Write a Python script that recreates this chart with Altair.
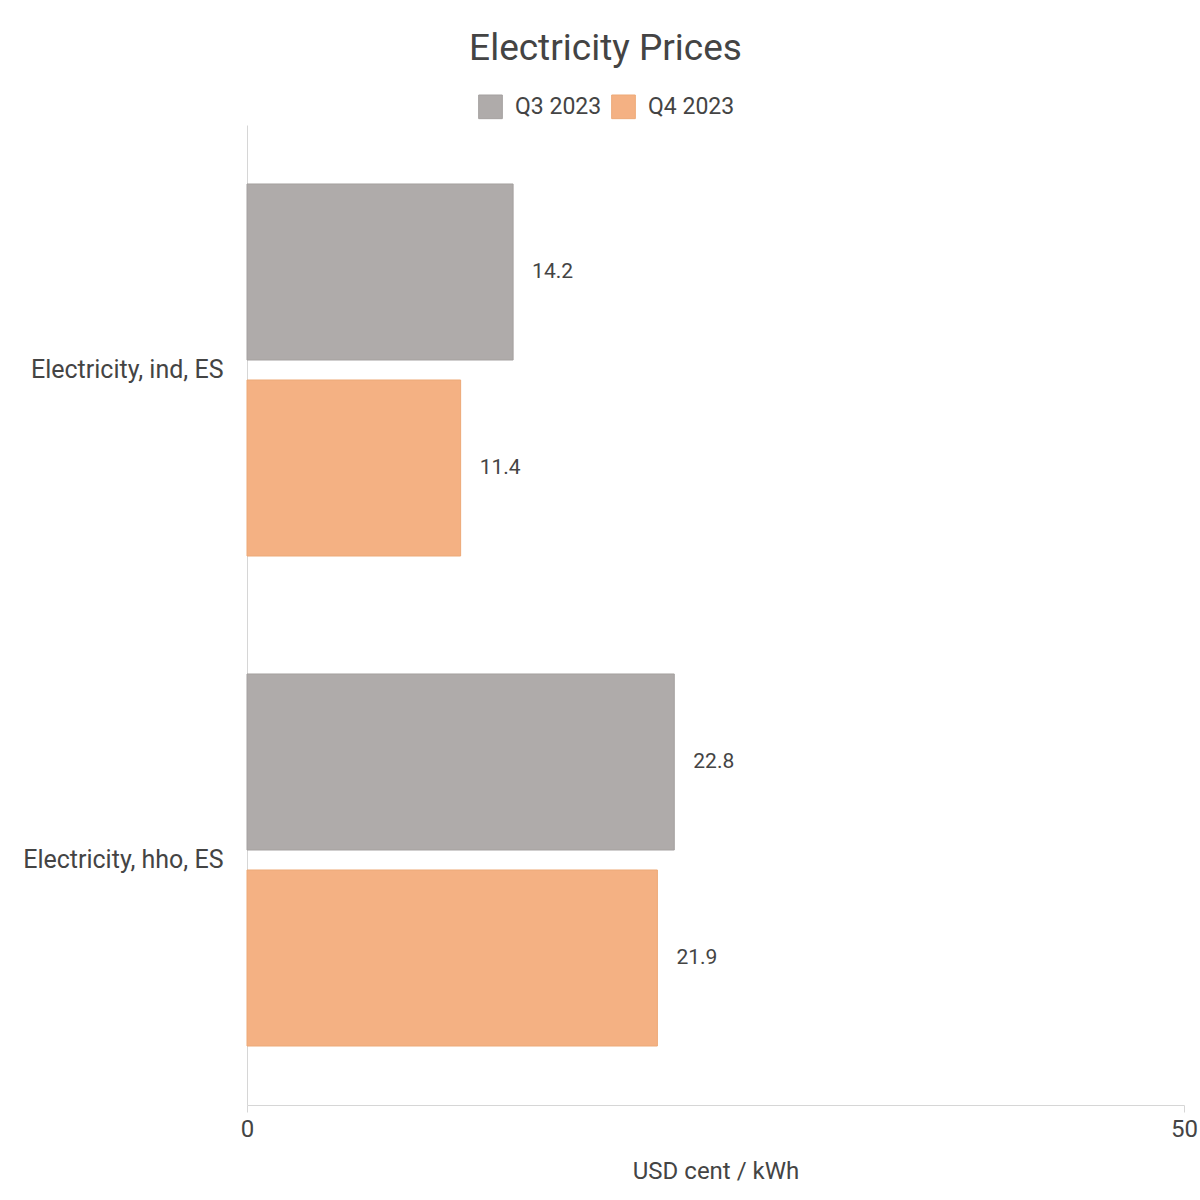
import altair as alt
import pandas as pd

# Electricity prices by quarter, USD cent per kWh
categories = ["Electricity, ind, ES", "Electricity, hho, ES"]
series = ["Q3 2023", "Q4 2023"]
q3_values = [14.2, 22.8]
q4_values = [11.4, 21.9]
colors = ["#AFABAA", "#F4B183"]
strokes = ["#A4A09F", "#EDA977"]

rows = []
for cat, v3, v4 in zip(categories, q3_values, q4_values):
    rows.append({"category": cat, "series": series[0], "value": v3})
    rows.append({"category": cat, "series": series[1], "value": v4})
df = pd.DataFrame(rows)

FONT = "Roboto"
TEXT = "#444444"
LINE = "#D6D6D6"

x = alt.X(
    "value:Q",
    scale=alt.Scale(domain=[0, 50], nice=False),
    axis=alt.Axis(
        values=[0, 50],
        title="USD cent / kWh",
        titleFontSize=24,
        titleFont=FONT,
        titleColor=TEXT,
        titleFontWeight="normal",
        titlePadding=18,
        labelFontSize=24,
        labelFont=FONT,
        labelColor=TEXT,
        labelPadding=5,
        labelFlush=False,
        grid=False,
        domainColor=LINE,
        tickColor=LINE,
        tickSize=7,
    ),
)
y = alt.Y(
    "category:N",
    sort=categories,
    scale=alt.Scale(paddingInner=0, paddingOuter=0),
    axis=alt.Axis(
        title=None,
        labelFontSize=25,
        labelFont=FONT,
        labelColor=TEXT,
        labelPadding=24,
        ticks=False,
        domainColor=LINE,
        labelLimit=400,
    ),
)
y_off = alt.YOffset(
    "series:N",
    sort=series,
    scale=alt.Scale(paddingInner=0.102, paddingOuter=0.301),
)

bars = alt.Chart(df).mark_bar(strokeWidth=1).encode(
    x=x,
    y=y,
    yOffset=y_off,
    color=alt.Color(
        "series:N",
        sort=series,
        scale=alt.Scale(domain=series, range=colors),
        legend=alt.Legend(
            title=None,
            orient="none",
            legendX=231,
            legendY=-31,
            direction="horizontal",
            symbolType="square",
            symbolSize=560,
            symbolStrokeWidth=1,
            labelFontSize=23,
            labelFont=FONT,
            labelColor=TEXT,
            columnPadding=7,
            labelOffset=12,
        ),
    ),
    stroke=alt.Stroke(
        "series:N",
        sort=series,
        scale=alt.Scale(domain=series, range=strokes),
        legend=None,
    ),
)

labels = alt.Chart(df).mark_text(
    align="left", baseline="middle", dx=19, fontSize=21, font=FONT, color=TEXT
).encode(
    x="value:Q",
    y=alt.Y("category:N", sort=categories),
    yOffset=alt.YOffset("series:N", sort=series),
    text=alt.Text("value:Q", format=".1f"),
)

chart = (
    alt.layer(bars, labels)
    .properties(
        width=937,
        height=980,
        background="white",
        title=alt.TitleParams(
            "Electricity Prices",
            fontSize=37,
            font=FONT,
            color=TEXT,
            fontWeight="normal",
            anchor="middle",
            dx=-110,
            offset=26,
        ),
        autosize=alt.AutoSizeParams(type="none"),
        padding={"left": 247, "top": 125, "right": 16, "bottom": 95},
    )
    .configure_view(stroke=None)
)

chart.save("out.html", embed_options={"renderer": "svg", "actions": False})
